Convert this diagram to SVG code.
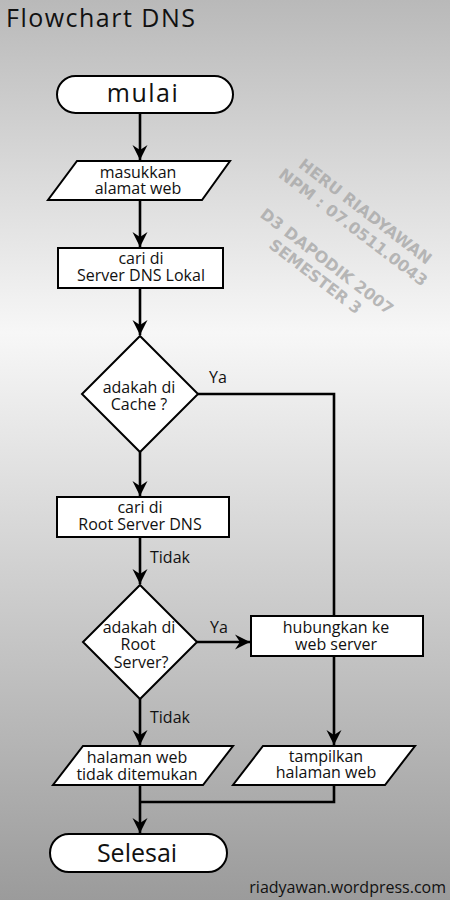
<svg xmlns="http://www.w3.org/2000/svg" width="450" height="900" viewBox="0 0 450 900">
<defs>
<linearGradient id="bg" x1="0" y1="0" x2="0" y2="1">
<stop offset="0" stop-color="#b9b9b9"/>
<stop offset="0.37" stop-color="#f7f7f7"/>
<stop offset="1" stop-color="#9b9b9b"/>
</linearGradient>
<marker id="arr" markerUnits="userSpaceOnUse" markerWidth="17" markerHeight="17" viewBox="-16 -8.5 17 17" refX="0" refY="0" orient="auto">
<path d="M0,0 L-15,-7.5 L-10,0 L-15,7.5 Z" fill="#000"/>
</marker>
<style>
.shape{fill:#fff;stroke:#000;stroke-width:2}
.conn{fill:none;stroke:#000;stroke-width:2.6}
.t{font-family:"Open Sans","DejaVu Sans",sans-serif;font-size:16px;fill:#111;text-anchor:middle}
.lbl{font-family:"Open Sans","DejaVu Sans",sans-serif;font-size:16px;fill:#111}
.big{font-family:"Open Sans","DejaVu Sans",sans-serif;font-size:25px;fill:#111;text-anchor:middle}
.wm{font-family:"DejaVu Sans",sans-serif;font-weight:bold;font-size:16px;fill:#a4a4a4;fill-opacity:0.75;text-anchor:middle}
</style>
</defs>
<rect x="0" y="0" width="450" height="900" fill="url(#bg)"/>
<text x="6" y="27" font-family="Open Sans, DejaVu Sans, sans-serif" font-size="25" fill="#111" textLength="189" lengthAdjust="spacing">Flowchart DNS</text>
<g id="watermark" transform="translate(250,140) rotate(37.5)">
<text class="wm" x="135" y="-8">HERU RIADYAWAN</text>
<text class="wm" x="135" y="12">NPM : 07.0511.0043</text>
<text class="wm" x="135" y="55">D3 DAPODIK 2007</text>
<text class="wm" x="135" y="74">SEMESTER 3</text>
</g>
<g id="connectors">
<path class="conn" d="M140,113 V160" marker-end="url(#arr)"/>
<path class="conn" d="M140,200 V247" marker-end="url(#arr)"/>
<path class="conn" d="M140,288 V335" marker-end="url(#arr)"/>
<path class="conn" d="M140,452 V496" marker-end="url(#arr)"/>
<path class="conn" d="M140,537 V584" marker-end="url(#arr)"/>
<path class="conn" d="M140,699 V745" marker-end="url(#arr)"/>
<path class="conn" d="M197,642 H250" marker-end="url(#arr)"/>
<path class="conn" d="M198,394 H334 V745" marker-end="url(#arr)"/>
<path class="conn" d="M334,785 V802 H140"/>
<path class="conn" d="M140,785 V833" marker-end="url(#arr)"/>
<text class="lbl" x="209" y="383">Ya</text>
<text class="lbl" x="150" y="563">Tidak</text>
<text class="lbl" x="210" y="633">Ya</text>
<text class="lbl" x="150" y="723">Tidak</text>
</g>
<g id="mulai">
<rect class="shape" x="57" y="76" width="176" height="37" rx="18.5"/>
<text class="big" x="143" y="102" letter-spacing="1.5">mulai</text>
</g>
<g id="masukkan">
<polygon class="shape" points="77,161 230,161 202,200 48,200"/>
<text class="t" x="138" y="178">masukkan</text>
<text class="t" x="138" y="194">alamat web</text>
</g>
<g id="cari-lokal">
<rect class="shape" x="58" y="248" width="165" height="40"/>
<text class="t" x="141" y="264">cari di</text>
<text class="t" x="141" y="281">Server DNS Lokal</text>
</g>
<g id="cache">
<polygon class="shape" points="140,336 198,394 140,452 82,394"/>
<text class="t" x="139" y="393">adakah di</text>
<text class="t" x="139" y="410">Cache ?</text>
</g>
<g id="cari-root">
<rect class="shape" x="57" y="497" width="172" height="40"/>
<text class="t" x="140" y="513">cari di</text>
<text class="t" x="140" y="530">Root Server DNS</text>
</g>
<g id="root">
<polygon class="shape" points="140,585 197,642 140,699 83,642"/>
<text class="t" x="139" y="633">adakah di</text>
<text class="t" x="138" y="650">Root</text>
<text class="t" x="141" y="668">Server?</text>
</g>
<g id="hubungkan">
<rect class="shape" x="251" y="616" width="172" height="40"/>
<text class="t" x="336" y="633">hubungkan ke</text>
<text class="t" x="336" y="650">web server</text>
</g>
<g id="tidak-ditemukan">
<polygon class="shape" points="83,746 233,746 203,785 53,785"/>
<text class="t" x="137" y="763">halaman web</text>
<text class="t" x="137" y="780">tidak ditemukan</text>
</g>
<g id="tampilkan">
<polygon class="shape" points="263,746 415,746 385,785 233,785"/>
<text class="t" x="326" y="762">tampilkan</text>
<text class="t" x="326" y="778">halaman web</text>
</g>
<g id="selesai">
<rect class="shape" x="50" y="834" width="177" height="38" rx="19"/>
<text class="big" x="137" y="862">Selesai</text>
</g>
<text x="446" y="893" font-family="Open Sans, DejaVu Sans, sans-serif" font-size="16" fill="#111" text-anchor="end">riadyawan.wordpress.com</text>
</svg>
